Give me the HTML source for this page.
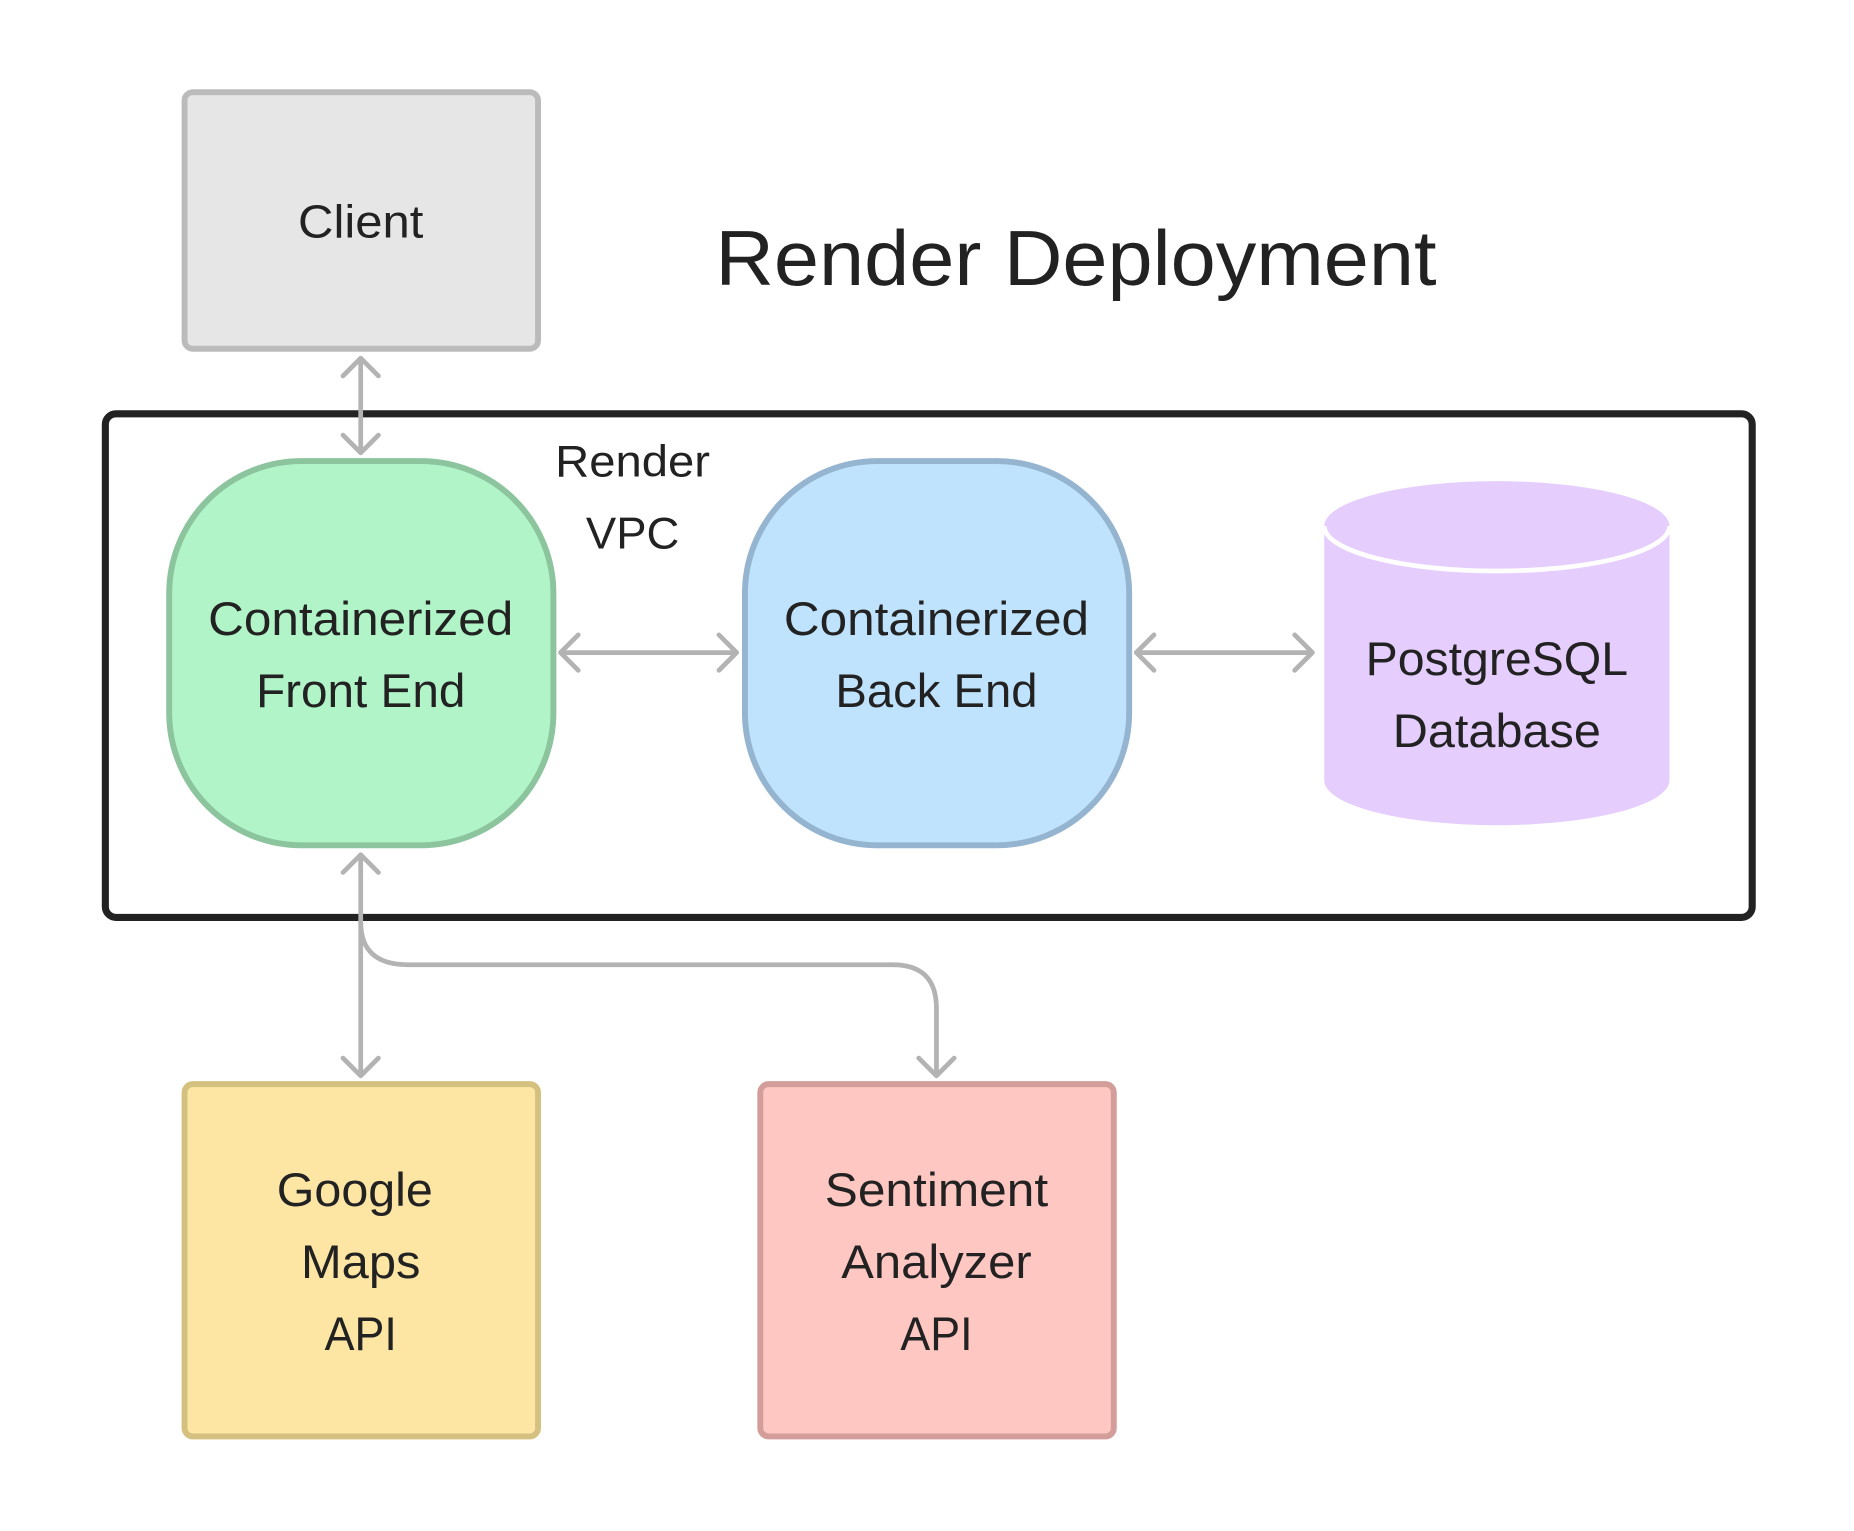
<!DOCTYPE html>
<html><head><style>html,body{margin:0;padding:0;background:#fff}svg{display:block}</style></head>
<body>
<svg width="1854" height="1531" viewBox="0 0 1568 1295" xmlns="http://www.w3.org/2000/svg" font-family="Liberation Sans, sans-serif" fill="#222">
<rect x="0" y="0" width="1568" height="1295" fill="#fff"/>
<rect x="156" y="78" width="299" height="217" rx="7" fill="#e6e6e6" stroke="#bbb" stroke-width="5"/>
<text x="305" y="201" font-size="39" text-anchor="middle" textLength="106" lengthAdjust="spacingAndGlyphs">Client</text>
<text x="910" y="241" font-size="66" text-anchor="middle" textLength="610" lengthAdjust="spacingAndGlyphs">Render Deployment</text>
<rect x="89" y="350" width="1393" height="426" rx="9" fill="none" stroke="#222" stroke-width="6"/>
<text x="535" y="403" font-size="38" text-anchor="middle" textLength="131" lengthAdjust="spacingAndGlyphs">Render</text>
<text x="535" y="464" font-size="38" text-anchor="middle" textLength="79" lengthAdjust="spacingAndGlyphs">VPC</text>
<rect x="143" y="390" width="325" height="325" rx="112" fill="#b0f4c8" stroke="#8bc49d" stroke-width="5"/>
<text x="305" y="537" font-size="40" text-anchor="middle" textLength="258" lengthAdjust="spacingAndGlyphs">Containerized</text>
<text x="305" y="598" font-size="40" text-anchor="middle" textLength="177" lengthAdjust="spacingAndGlyphs">Front End</text>
<rect x="630" y="390" width="325" height="325" rx="112" fill="#bfe3fd" stroke="#94b4cf" stroke-width="5"/>
<text x="792" y="537" font-size="40" text-anchor="middle" textLength="258" lengthAdjust="spacingAndGlyphs">Containerized</text>
<text x="792" y="598" font-size="40" text-anchor="middle" textLength="171" lengthAdjust="spacingAndGlyphs">Back End</text>
<path d="M1120 445 A146 38 0 0 1 1412 445 L1412 660 A146 38 0 0 1 1120 660 Z" fill="#e5cdfd"/>
<path d="M1120 445 A146 38 0 0 0 1412 445" fill="none" stroke="#fff" stroke-width="4"/>
<text x="1266" y="571" font-size="40" text-anchor="middle" textLength="222" lengthAdjust="spacingAndGlyphs">PostgreSQL</text>
<text x="1266" y="632" font-size="40" text-anchor="middle" textLength="176" lengthAdjust="spacingAndGlyphs">Database</text>
<g fill="none" stroke="#b3b3b3" stroke-width="4" stroke-linecap="round" stroke-linejoin="round">
<path d="M305 304 V382 M290 318 L305 303 L320 318 M290 368 L305 383 L320 368"/>
<path d="M474 552 H623 M489 537 L474 552 L489 567 M608 537 L623 552 L608 567"/>
<path d="M961 552 H1110 M976 537 L961 552 L976 567 M1095 537 L1110 552 L1095 567"/>
<path d="M305 723 V909 M290 738 L305 723 L320 738 M290 895 L305 910 L320 895"/>
<path d="M305 780 Q305 816 345 816 H755 Q792 816 792 853 V909 M777 895 L792 910 L807 895"/>
</g>
<rect x="156" y="917" width="299" height="298" rx="7" fill="#fde6a4" stroke="#d4c07f" stroke-width="5"/>
<text x="300" y="1020" font-size="40" text-anchor="middle" textLength="132" lengthAdjust="spacingAndGlyphs">Google</text>
<text x="305" y="1081" font-size="40" text-anchor="middle" textLength="101" lengthAdjust="spacingAndGlyphs">Maps</text>
<text x="305" y="1142" font-size="40" text-anchor="middle" textLength="61" lengthAdjust="spacingAndGlyphs">API</text>
<rect x="643" y="917" width="299" height="298" rx="7" fill="#fec7c2" stroke="#d39d99" stroke-width="5"/>
<text x="792" y="1020" font-size="40" text-anchor="middle" textLength="189" lengthAdjust="spacingAndGlyphs">Sentiment</text>
<text x="792" y="1081" font-size="40" text-anchor="middle" textLength="161" lengthAdjust="spacingAndGlyphs">Analyzer</text>
<text x="792" y="1142" font-size="40" text-anchor="middle" textLength="61" lengthAdjust="spacingAndGlyphs">API</text>
</svg>
</body></html>
